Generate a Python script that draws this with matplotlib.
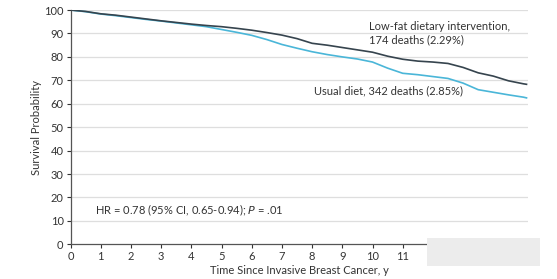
import matplotlib
matplotlib.use("Agg")
import matplotlib.pyplot as plt
from matplotlib.patches import Rectangle

# survival curves (years, %)
years = [0, 0.5, 1, 1.5, 2, 2.5, 3, 3.5, 4, 4.5, 5, 5.5, 6, 6.5, 7, 7.5,
         8, 8.5, 9, 9.5, 10, 10.5, 11, 11.5, 12, 12.5, 13, 13.5, 14, 14.5, 15, 15.1]
low_fat = [100, 99.4, 98.4, 97.8, 97.0, 96.2, 95.4, 94.7, 94.0, 93.4, 92.9, 92.2,
           91.4, 90.4, 89.3, 87.8, 85.8, 85.0, 84.0, 83.0, 82.0, 80.3, 79.0, 78.2,
           77.8, 77.2, 75.5, 73.2, 71.8, 69.8, 68.5, 68.3]
usual = [100, 99.3, 98.3, 97.6, 96.8, 96.0, 95.3, 94.5, 93.7, 92.9, 91.7, 90.5,
         89.2, 87.4, 85.3, 83.7, 82.2, 81.0, 80.0, 79.1, 77.8, 75.2, 73.0, 72.4,
         71.6, 70.8, 68.8, 66.0, 64.9, 63.8, 62.8, 62.5]

x_ticks = list(range(0, 16))
y_ticks = list(range(0, 101, 10))

plt.rcParams['font.family'] = ['Lato', 'DejaVu Sans']
text_col = '#333333'

fig = plt.figure(figsize=(5.57, 2.79), dpi=100)
ax = fig.add_axes([0.1266, 0.1244, 0.8214, 0.8396])

for v in y_ticks[1:]:
    ax.axhline(v, color='#dedede', lw=0.9, zorder=0)

ax.plot(years, usual, color='#4ab6d8', lw=1.2, zorder=3)
ax.plot(years, low_fat, color='#36444e', lw=1.2, zorder=4)

ax.set_xlim(0, 15.15)
ax.set_ylim(0, 100)
ax.set_xticks(x_ticks)
ax.set_yticks(y_ticks)
ax.tick_params(labelsize=8, colors=text_col, length=3, width=0.8, pad=2)
for s in ['top', 'right']:
    ax.spines[s].set_visible(False)
for s in ['left', 'bottom']:
    ax.spines[s].set_color('#555555')
    ax.spines[s].set_linewidth(0.9)

ax.set_xlabel('Time Since Invasive Breast Cancer, y', fontsize=8, color=text_col, labelpad=2)
ax.set_ylabel('Survival Probability', fontsize=8, color=text_col)
ax.yaxis.set_label_coords(-0.062, 0.5)

ax.text(9.88, 90.0, 'Low-fat dietary intervention,\n174 deaths (2.29%)',
        fontsize=8, color=text_col, va='center', ha='left', linespacing=1.25)
ax.text(8.07, 65.6, 'Usual diet, 342 deaths (2.85%)',
        fontsize=8, color=text_col, va='center', ha='left')
ax.text(0.81, 14.6, 'HR = 0.78 (95% CI, 0.65-0.94); $\\mathit{P}$ = .01',
        fontsize=8, color=text_col, va='center', ha='left')

# faint watermark block in the lower right corner
fig.patches.append(Rectangle((427 / 557, 1 - 266 / 279), 113 / 557, 28 / 279,
                             transform=fig.transFigure, facecolor='#ececec',
                             edgecolor='none', zorder=10))

fig.savefig('out.png', dpi=100)
